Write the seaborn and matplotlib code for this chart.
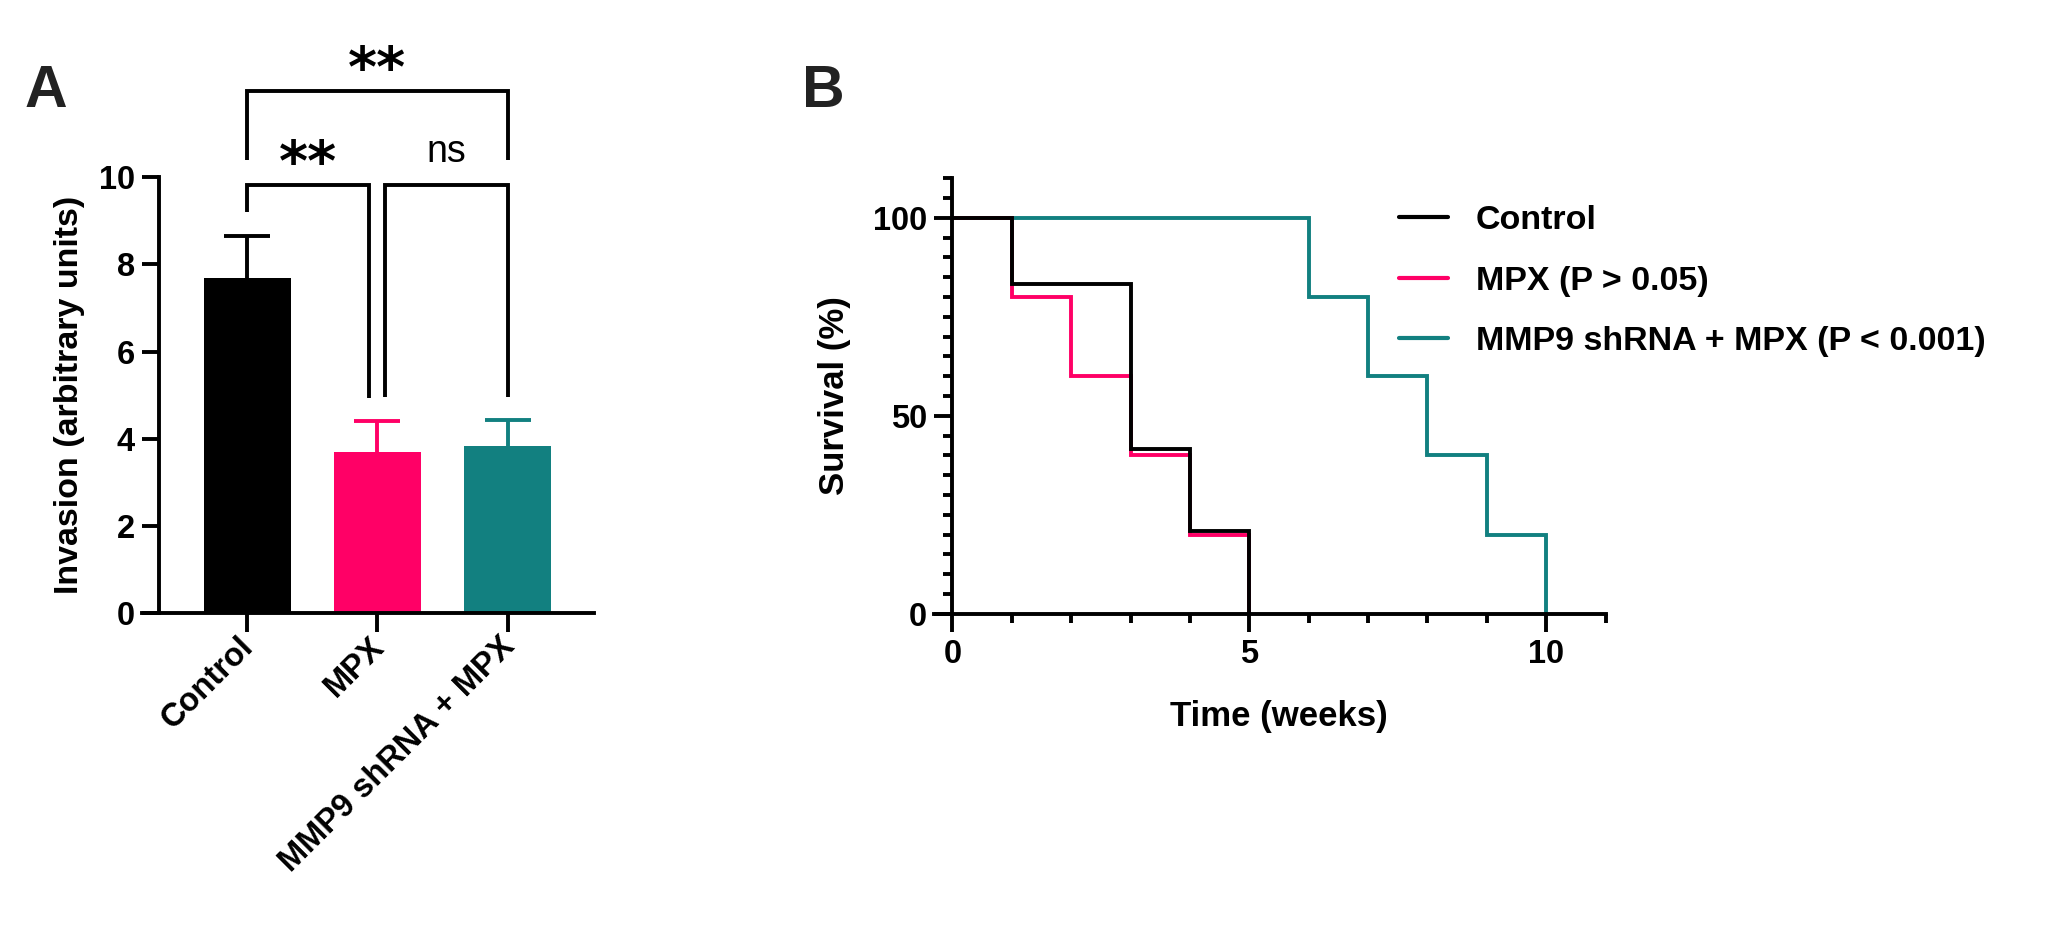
import matplotlib
matplotlib.use("Agg")
import matplotlib.pyplot as plt
import matplotlib.transforms as mtransforms
import seaborn as sns
import pandas as pd
import numpy as np

# --- panel A: invasion assay ---
groups = ["Control", "MPX", "MMP9 shRNA + MPX"]
invasion_mean = [7.68, 3.69, 3.83]
invasion_sem = [0.96, 0.71, 0.61]
bar_colors = ["#000000", "#FF0066", "#128080"]

# significance brackets: (x1, x2, top, left leg end, right leg end)
brackets = [
    (0.0, 0.935, 9.83, 9.19, 4.94),
    (1.06, 2.0, 9.83, 4.95, 4.95),
    (0.0, 2.0, 11.98, 10.4, 10.4),
]

# --- panel B: Kaplan-Meier survival ---
weeks_control = [0, 1, 3, 4, 5]
surv_control = [100, 83.3, 41.7, 20.8, 0]
weeks_mpx = [0, 1, 2, 3, 4, 5]
surv_mpx = [100, 80, 60, 40, 20, 0]
weeks_mmp9 = [0, 6, 7, 8, 9, 10]
surv_mmp9 = [100, 80, 60, 40, 20, 0]
surv_labels = ["Control", "MPX (P > 0.05)", "MMP9 shRNA + MPX (P < 0.001)"]

sns.set_style("ticks")
plt.rcParams["font.family"] = ["Liberation Sans", "DejaVu Sans"]
plt.rcParams["font.weight"] = "bold"
plt.rcParams["axes.labelweight"] = "bold"
for k in ("text.color", "axes.labelcolor", "axes.edgecolor", "xtick.color", "ytick.color"):
    plt.rcParams[k] = "black"

W, H = 2048, 930
fig = plt.figure(figsize=(W / 100, H / 100), dpi=100)
axa = fig.add_axes([142 / W, 1 - 613 / H, 452 / W, 435.8 / H])
axb = fig.add_axes([934 / W, 1 - 613.8 / H, 671.6 / W, 435.6 / H])

SPINE = 2.8

# ---------- A ----------
df_bar = pd.DataFrame({"group": groups, "invasion": invasion_mean})
# error bars first (symmetric, lower half hidden behind the bars)
for i, (m, e, c) in enumerate(zip(invasion_mean, invasion_sem, bar_colors)):
    axa.errorbar(i, m, yerr=e, fmt="none", ecolor=c, elinewidth=2.8,
                 capsize=16.9, capthick=2.8, zorder=0.5)
sns.barplot(data=df_bar, x="group", y="invasion", hue="group", palette=bar_colors,
            width=0.667, saturation=1, errorbar=None, legend=False,
            linewidth=0, zorder=1, ax=axa)

axa.set_xlim(-0.805, 2.66)
axa.set_ylim(0, 10)
sns.despine(ax=axa)
axa.spines["left"].set_position(("data", -0.671))
axa.spines["left"].set_bounds(0, 10)
for s in ("left", "bottom"):
    axa.spines[s].set_linewidth(SPINE)
axa.set_yticks(np.arange(0, 11, 2))
axa.tick_params(axis="y", direction="out", length=12.2, width=SPINE, labelsize=23.5, pad=5.5)
axa.tick_params(axis="x", direction="out", length=13.7, width=SPINE, labelsize=23.5, pad=5)
shift = mtransforms.ScaledTranslation(-0.09, 0.08, fig.dpi_scale_trans)
for lab in axa.get_xticklabels():
    lab.set_rotation(45)
    lab.set_ha("right")
    lab.set_rotation_mode("anchor")
    lab.set_transform(lab.get_transform() + shift)
axa.set_xlabel("")
axa.set_ylabel("Invasion (arbitrary units)", fontsize=24.5)
axa.yaxis.set_label_coords(-0.127, 0.5)

for x1, x2, top, yl, yr in brackets:
    axa.plot([x1, x1, x2, x2], [yl, top, top, yr], color="black", lw=SPINE,
             clip_on=False, solid_joinstyle="miter", solid_capstyle="butt")
axa.text(0.47, 9.93, "**", ha="center", va="baseline", fontsize=40,
         family=["DejaVu Sans"], fontweight="bold")
axa.text(1.0, 12.1, "**", ha="center", va="baseline", fontsize=40,
         family=["DejaVu Sans"], fontweight="bold")
axa.text(1.53, 10.35, "ns", ha="center", va="baseline", fontsize=27,
         fontweight="normal")

# ---------- B ----------
df_surv = pd.concat([
    pd.DataFrame({"week": weeks_control, "survival": surv_control, "group": surv_labels[0]}),
    pd.DataFrame({"week": weeks_mpx, "survival": surv_mpx, "group": surv_labels[1]}),
    pd.DataFrame({"week": weeks_mmp9, "survival": surv_mmp9, "group": surv_labels[2]}),
])
line_colors = {surv_labels[0]: "#000000", surv_labels[1]: "#FF0066", surv_labels[2]: "#128080"}
sns.lineplot(data=df_surv, x="week", y="survival", hue="group",
             hue_order=surv_labels[::-1], palette=line_colors,
             estimator=None, sort=False, drawstyle="steps-post",
             linewidth=2.8, ax=axb)
for ln in axb.get_lines():
    ln.set_linewidth(2.8)
    ln.set_solid_joinstyle("miter")

axb.set_xlim(-0.31, 11)
axb.set_ylim(0, 110)
sns.despine(ax=axb)
axb.spines["left"].set_position(("data", 0))
axb.spines["left"].set_bounds(0, 110)
axb.spines["bottom"].set_bounds(-0.31, 11)
for s in ("left", "bottom"):
    axb.spines[s].set_linewidth(SPINE)
axb.set_xticks([0, 5, 10])
axb.set_xticks([1, 2, 3, 4, 6, 7, 8, 9, 11], minor=True)
axb.set_yticks([0, 50, 100])
axb.set_yticks([v for v in range(5, 111, 5) if v not in (50, 100)], minor=True)
axb.tick_params(axis="both", which="major", direction="out", length=13.2,
                width=SPINE, labelsize=23.5, pad=5)
axb.tick_params(axis="x", which="minor", direction="out", length=6.5, width=SPINE)
axb.tick_params(axis="y", which="minor", direction="out", length=6.8, width=SPINE)
axb.set_xlabel("Time (weeks)", fontsize=25)
axb.xaxis.set_label_coords(0.513, -0.198)
axb.set_ylabel("Survival (%)", fontsize=25)
axb.yaxis.set_label_coords(-0.124, 0.5)

handles, labels = axb.get_legend_handles_labels()
leg = axb.legend(handles[::-1], labels[::-1], loc="upper left",
                 bbox_to_anchor=(1399 / W, 1 - 205 / H), bbox_transform=fig.transFigure,
                 frameon=False, borderpad=0, borderaxespad=0, handlelength=1.45,
                 handletextpad=0.8, labelspacing=0.87, fontsize=24.5)
for h in leg.get_lines():
    h.set_linewidth(3.0)

fig.text(25 / W, 1 - 107 / H, "A", fontsize=42.5, fontweight="bold", color="#222222",
         ha="left", va="baseline")
fig.text(802 / W, 1 - 107 / H, "B", fontsize=42.5, fontweight="bold", color="#222222",
         ha="left", va="baseline")

fig.savefig("out.png", dpi=100)
